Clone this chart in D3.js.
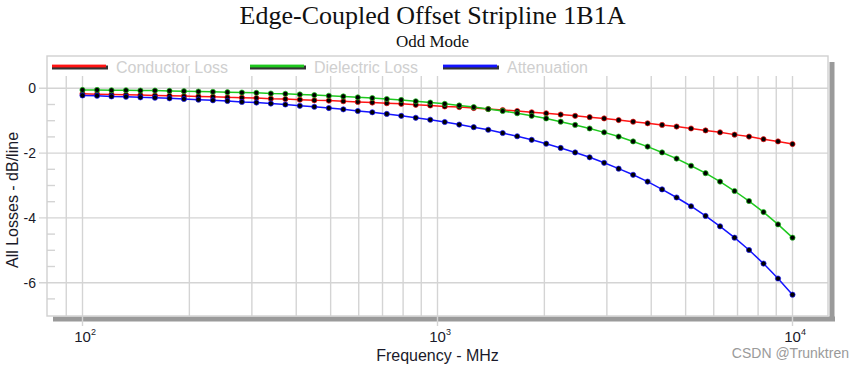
<!DOCTYPE html>
<html><head><meta charset="utf-8">
<script src="https://cdn.jsdelivr.net/npm/d3@7"></script>
<style>html,body{margin:0;padding:0;background:#fff;}svg{display:block;}</style>
</head><body>
<svg id="chart" width="865" height="366"></svg>
<script>
// ---- data ----
const freqMHz = [100,109.9,120.7,132.6,145.6,160.0,175.8,193.1,212.1,233.0,
  256.0,281.2,308.9,339.3,372.8,409.5,449.8,494.2,542.9,596.4,
  655.1,719.7,790.6,868.5,954.1,1048.1,1151.4,1264.9,1389.5,1526.4,
  1676.8,1842.1,2023.6,2223.0,2442.1,2682.7,2947.1,3237.5,3556.5,3906.9,
  4291.9,4714.9,5179.5,5689.9,6250.6,6866.5,7543.1,8286.4,9103.0,10000];
const conductorLoss = [-0.17,-0.18,-0.19,-0.20,-0.21,-0.22,-0.23,-0.24,-0.25,-0.26,
  -0.28,-0.29,-0.30,-0.32,-0.33,-0.35,-0.37,-0.38,-0.40,-0.42,
  -0.44,-0.46,-0.48,-0.51,-0.53,-0.56,-0.58,-0.61,-0.64,-0.67,
  -0.70,-0.74,-0.77,-0.81,-0.85,-0.89,-0.93,-0.98,-1.03,-1.08,
  -1.13,-1.18,-1.24,-1.30,-1.36,-1.43,-1.49,-1.57,-1.64,-1.72];
const dielectricLoss = [-0.05,-0.05,-0.06,-0.06,-0.07,-0.07,-0.08,-0.09,-0.10,-0.11,
  -0.12,-0.13,-0.14,-0.16,-0.17,-0.19,-0.21,-0.23,-0.25,-0.28,
  -0.30,-0.33,-0.36,-0.40,-0.44,-0.48,-0.53,-0.58,-0.64,-0.70,
  -0.77,-0.85,-0.93,-1.03,-1.13,-1.24,-1.36,-1.49,-1.64,-1.80,
  -1.98,-2.17,-2.39,-2.62,-2.88,-3.17,-3.48,-3.82,-4.20,-4.61];
const attenuation = [-0.22,-0.23,-0.25,-0.26,-0.28,-0.29,-0.31,-0.33,-0.35,-0.37,
  -0.39,-0.42,-0.44,-0.47,-0.50,-0.54,-0.57,-0.61,-0.65,-0.70,
  -0.74,-0.79,-0.85,-0.91,-0.97,-1.04,-1.12,-1.20,-1.28,-1.38,
  -1.48,-1.59,-1.71,-1.84,-1.98,-2.13,-2.30,-2.48,-2.67,-2.88,
  -3.12,-3.37,-3.64,-3.94,-4.26,-4.61,-4.99,-5.41,-5.87,-6.37];
const seriesNames = ["Conductor Loss","Dielectric Loss","Attenuation"];
const seriesColors = ["#ff1414","#1ec81e","#1414ff"];
const yTickValues = [0,-2,-4,-6];
const xDecades = [100,1000,10000];
const xDecadeExp = ["2","3","4"];
const titleText = "Edge-Coupled Offset Stripline 1B1A";
const subtitleText = "Odd Mode";
const xLabel = "Frequency - MHz";
const yLabel = "All Losses - dB/line";
const watermark = "CSDN @Trunktren";

// ---- layout ----
const svg = d3.select("#chart");
const L = 47, R = 828, T = 56, B = 316, gridTop = 76;
const x = d3.scaleLog().domain([Math.pow(10,1.9), Math.pow(10,4.1)]).range([L, R]);
const y = d3.scaleLinear().domain([-7, 1]).range([315.1, 55.9]);
const sans = "'Liberation Sans', Arial, sans-serif";
const serif = "'Liberation Serif', 'Times New Roman', serif";
const gridCol = "#d4d4d4";

// titles
svg.append("text").attr("x", 432.5).attr("y", 23.5).attr("text-anchor","middle")
  .style("font-family", serif).style("font-size","26px").attr("fill","#111").text(titleText);
svg.append("text").attr("x", 432.5).attr("y", 47).attr("text-anchor","middle")
  .style("font-family", serif).style("font-size","17px").attr("fill","#111").text(subtitleText);

// shadow
svg.append("rect").attr("x", R+1.5).attr("y", T+6).attr("width",5).attr("height", B-T-1)
  .attr("fill","#9a9a9a");
svg.append("rect").attr("x", L+6).attr("y", B+0.5).attr("width", R-L+1).attr("height",5)
  .attr("fill","#9a9a9a");
// plot background
svg.append("rect").attr("x", L).attr("y", T).attr("width", R-L).attr("height", B-T).attr("fill","#fff");

// vertical grid (minor log lines 90..10000)
const vLines = x.ticks().filter(v => v >= 90 && v <= 10000);
svg.append("g").selectAll("line").data(vLines).join("line")
  .attr("x1", d => x(d)).attr("x2", d => x(d)).attr("y1", gridTop).attr("y2", B)
  .attr("stroke", gridCol).attr("stroke-width",1.4);
// decade tick marks below axis
svg.append("g").selectAll("line").data(xDecades).join("line")
  .attr("x1", d => x(d)).attr("x2", d => x(d)).attr("y1", B).attr("y2", B+10)
  .attr("stroke", gridCol).attr("stroke-width",1.4);

// horizontal grid + major ticks
svg.append("g").selectAll("line").data(yTickValues).join("line")
  .attr("x1", L-8).attr("x2", R).attr("y1", d => y(d)).attr("y2", d => y(d))
  .attr("stroke", gridCol).attr("stroke-width",1.4);
// minor ticks inside left edge
const minorY = d3.range(-13, 0).map(v => v/2).filter(v => !yTickValues.includes(v) && v > -7);
svg.append("g").selectAll("line").data(minorY).join("line")
  .attr("x1", L).attr("x2", L+8).attr("y1", d => y(d)).attr("y2", d => y(d))
  .attr("stroke", gridCol).attr("stroke-width",1.4);

// frame
svg.append("rect").attr("x", L).attr("y", T).attr("width", R-L).attr("height", B-T)
  .attr("fill","none").attr("stroke","#d0d0d0").attr("stroke-width",1.4);

// y tick labels
svg.append("g").selectAll("text").data(yTickValues).join("text")
  .attr("x", 36).attr("y", d => y(d)+5).attr("text-anchor","end")
  .style("font-family", sans).style("font-size","14px").attr("fill","#1a1a2a")
  .text(d => d === 0 ? "0" : "-" + Math.abs(d));

// x tick labels 10^n
const xl = svg.append("g").selectAll("g").data(xDecades).join("g")
  .attr("transform", d => `translate(${x(d)},342)`);
xl.append("text").attr("x", 0).attr("text-anchor","middle")
  .style("font-family", sans).style("font-size","15px").attr("fill","#1a1a2a").text("10");
xl.append("text").attr("x", 8.5).attr("y", -7)
  .style("font-family", sans).style("font-size","9px").attr("fill","#1a1a2a")
  .text((d,i) => xDecadeExp[i]);

// axis labels
svg.append("text").attr("x", (L+R)/2).attr("y", 361).attr("text-anchor","middle")
  .style("font-family", sans).style("font-size","16px").attr("fill","#1a1a2a").text(xLabel);
svg.append("text").attr("transform","translate(18,200) rotate(-90)").attr("text-anchor","middle")
  .style("font-family", sans).style("font-size","16px").attr("fill","#1a1a2a").text(yLabel);

// series
const seriesData = [conductorLoss, dielectricLoss, attenuation];
const line = d3.line().x((d,i) => x(freqMHz[i])).y(d => y(d));
svg.append("defs").append("clipPath").attr("id","pc")
  .append("rect").attr("x",L).attr("y",T).attr("width",R-L).attr("height",B-T);
const plotG = svg.append("g").attr("clip-path","url(#pc)");
seriesData.forEach((vals, si) => {
  plotG.append("path").datum(vals).attr("d", line).attr("fill","none")
    .attr("stroke", seriesColors[si]).attr("stroke-width",1.5);
});
seriesData.forEach((vals, si) => {
  plotG.append("g").selectAll("circle").data(vals).join("circle")
    .attr("cx", (d,i) => x(freqMHz[i])).attr("cy", d => y(d)).attr("r", 2.6)
    .attr("fill","#000").attr("stroke", seriesColors[si]).attr("stroke-width",1)
    .attr("stroke-opacity",0.7);
});

// legend
const legX = [52, 250, 443];
const lg = svg.append("g").selectAll("g").data(seriesNames).join("g")
  .attr("transform", (d,i) => `translate(${legX[i]},0)`);
lg.append("rect").attr("x",0).attr("y",65.5).attr("width",56).attr("height",4).attr("fill","#333");
lg.append("rect").attr("x",0).attr("y",64.6).attr("width",54).attr("height",2.8)
  .attr("fill",(d,i) => seriesColors[i]);
lg.append("text").attr("x",64).attr("y",73).style("font-family", sans).style("font-size","16px")
  .attr("fill","#cfcfcf").text(d => d);

// watermark
svg.append("text").attr("x", 849).attr("y", 358).attr("text-anchor","end")
  .style("font-family", sans).style("font-size","14px").attr("fill","#9a9a9a").text(watermark);
</script>
</body></html>
